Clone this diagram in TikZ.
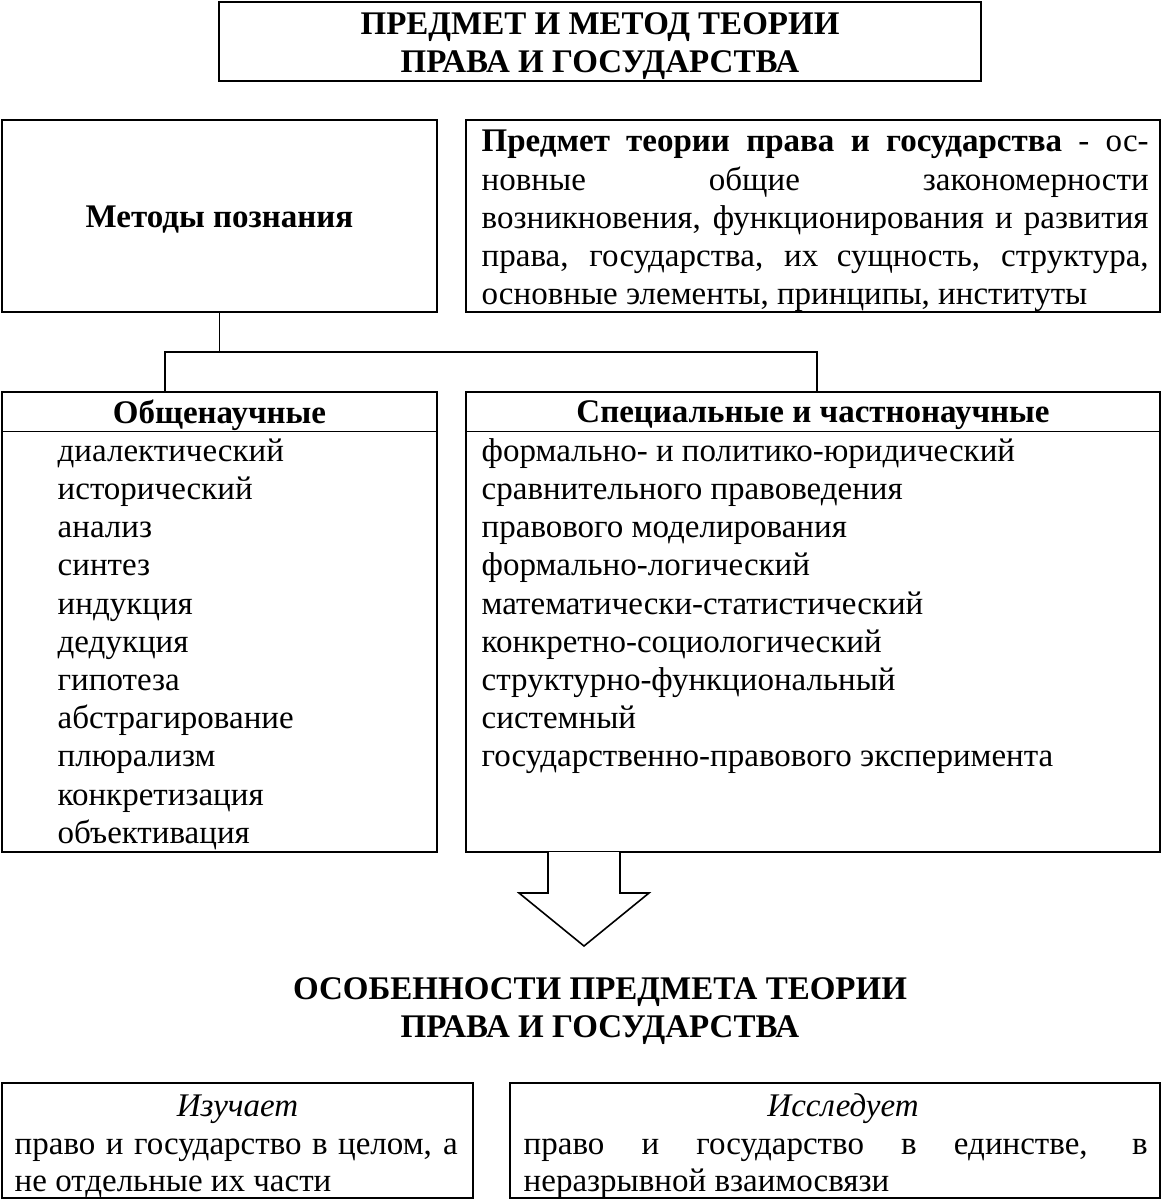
\documentclass[tikz,border=0pt]{standalone}
\usepackage{fontspec}
\setmainfont{Liberation Serif}
\begin{document}
\begin{tikzpicture}[x=1pt,y=-1pt,line width=1.4pt,
  box/.style={draw, inner sep=0pt, rectangle},
  txt/.style={inner sep=0pt, font=\fontsize{33}{38}\selectfont},
  btxt/.style={txt, font=\fontsize{33}{38}\selectfont\bfseries},
  item/.style={txt, anchor=mid west}]
\useasboundingbox[fill=white] (0,0) rectangle (1163,1200);

% title
\node[box, minimum width=762, minimum height=79] (title) at (600,41.5) {};
\node[btxt, align=center] (titleT) at (600,46) {ПРЕДМЕТ И МЕТОД ТЕОРИИ\\ПРАВА И ГОСУДАРСТВА};

% methods & subject
\node[box, minimum width=435, minimum height=192] (methods) at (219.5,216) {};
\node[btxt] (methodsT) at (219.5,220) {Методы познания};
\node[box, minimum width=694, minimum height=192] (subject) at (813,216) {};
\node[item] (s1) at (481,149) {\makebox[667pt][s]{\textbf{Предмет теории права и государства} - ос-}};
\node[item] (s2) at (481,188) {\makebox[667pt][s]{новные общие закономерности}};
\node[item] (s3) at (481,226) {\makebox[667pt][s]{возникновения, функционирования и развития}};
\node[item] (s4) at (481,264) {\makebox[667pt][s]{права, государства, их сущность, структура,}};
\node[item] (s5) at (481,302) {основные элементы, принципы, институты};

% lower boxes
\node[box, minimum width=435, minimum height=460] (gen) at (219.5,622) {};
\node[box, minimum width=694, minimum height=460] (spec) at (813,622) {};
\draw ([yshift=-40pt]gen.north west) -- ([yshift=-40pt]gen.north east);
\draw ([yshift=-40pt]spec.north west) -- ([yshift=-40pt]spec.north east);
\node[btxt] (genT) at (219.5,415) {Общенаучные};
\node[btxt] (specT) at (813,415) {Специальные и частнонаучные};

% connectors
\coordinate (j) at (219.5,352);
\draw (methods.south) -- (j);
\draw ([xshift=-54.5pt]gen.north) |- (j) -| ([xshift=4pt]spec.north);

\foreach \t [count=\i] in {диалектический,исторический,анализ,синтез,индукция,дедукция,гипотеза,абстрагирование,плюрализм,конкретизация,объективация}
  \node[item] (g\i) at (57,{459+38.2*(\i-1)}) {\t};
\foreach \t [count=\i] in {формально- и политико-юридический,сравнительного правоведения,правового моделирования,формально-логический,математически-статистический,конкретно-социологический,структурно-функциональный,системный,государственно-правового эксперимента}
  \node[item] (p\i) at (481,{459+38.2*(\i-1)}) {\t};

% block arrow
\draw[line width=1.6pt, fill=white] (548,852) -- (548,893) -- (519,893) -- (584,946) -- (649,893) -- (620,893) -- (620,852);

% bottom heading
\node[btxt, align=center] (feat) at (600,1011) {ОСОБЕННОСТИ ПРЕДМЕТА ТЕОРИИ\\ПРАВА И ГОСУДАРСТВА};

% bottom boxes
\node[box, minimum width=471, minimum height=115] (studies) at (237.5,1140.5) {};
\node[txt, font=\fontsize{33}{38}\selectfont\itshape] (studiesT) at (237.5,1109) {Изучает};
\node[item] (st1) at (14,1152) {\makebox[443pt][s]{право и государство в целом, а}};
\node[item] (st2) at (14,1189) {не отдельные их части};

\node[box, minimum width=650, minimum height=115] (res) at (835,1140.5) {};
\node[txt, font=\fontsize{33}{38}\selectfont\itshape] (resT) at (843,1109) {Исследует};
\node[item] (r1) at (523,1152) {\makebox[624pt][s]{право и государство в единстве, в}};
\node[item] (r2) at (523,1189) {неразрывной взаимосвязи};
\end{tikzpicture}
\end{document}
